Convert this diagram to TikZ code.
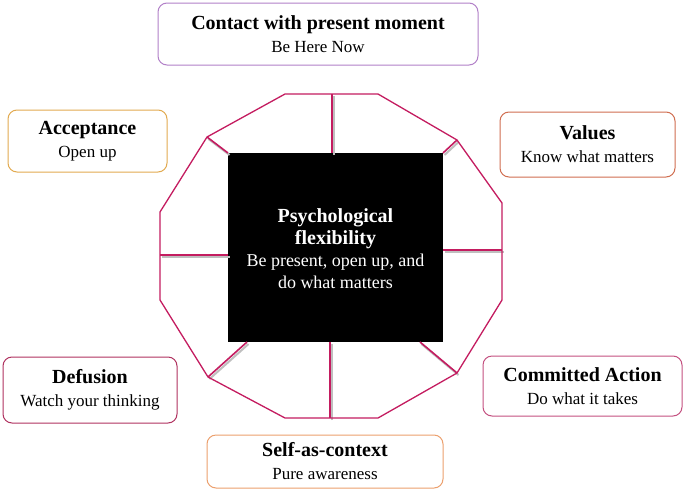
\documentclass[tikz,border=0pt]{standalone}
\usepackage{fontspec}
\setmainfont{Liberation Serif}
\definecolor{crim}{RGB}{196,28,96}
\definecolor{cPurple}{RGB}{178,128,200}
\definecolor{cGold}{RGB}{226,170,80}
\definecolor{cRust}{RGB}{208,110,80}
\definecolor{cRose}{RGB}{176,50,96}
\definecolor{cPink}{RGB}{196,80,128}
\definecolor{cOrange}{RGB}{236,160,110}
\tikzset{
  lbox/.style={draw=#1, line width=1pt, rounded corners=9pt, fill=white, align=center, inner sep=0pt, font=\fontsize{17}{23}\selectfont},
  spoke/.style={draw=crim, line width=1.6pt},
  spokeshadow/.style={draw=black!25, line width=2pt},
  edge/.style={draw=crim, line width=1.3pt, line join=miter},
}
\newcommand{\boxtext}[2]{\textbf{\fontsize{20}{23}\selectfont #1}\\#2}
\begin{document}
\begin{tikzpicture}[x=1pt,y=-1pt]
\useasboundingbox[fill=white] (0,0) rectangle (685,493);
% polygon vertices
\coordinate (p1) at (285,94);
\coordinate (p2) at (378,94);
\coordinate (p3) at (457,140);
\coordinate (p4) at (502,203);
\coordinate (p5) at (502,300);
\coordinate (p6) at (457,373);
\coordinate (p7) at (378,418);
\coordinate (p8) at (285,418);
\coordinate (p9) at (208,377);
\coordinate (p10) at (160,300);
\coordinate (p11) at (160,212);
\coordinate (p12) at (207,137);
% spoke outer ends
\coordinate (sT) at (332,94);
\coordinate (sR) at (502,250);
\coordinate (sB) at (330,418);
\coordinate (sL) at (160,255);
% central square
\node[fill=black, minimum width=215pt, minimum height=189pt, inner sep=0pt] (core) at (335.5,247.5) {};
% spoke inner ends
\coordinate (cT) at (332,153);
\coordinate (cNE) at (443,153);
\coordinate (cR) at (443,250);
\coordinate (cSE) at (420,342);
\coordinate (cB) at (330,342);
\coordinate (cSW) at (247,342);
\coordinate (cL) at (228,255);
\coordinate (cNW) at (228,153);
% spoke shadows
\foreach \a/\b in {sT/cT,p3/cNE,sR/cR,p6/cSE,sB/cB,p9/cSW,sL/cL,p12/cNW}{
  \draw[spokeshadow] ([shift={(1.5,2)}]\a) -- ([shift={(1.5,2)}]\b);
}
% polygon
\draw[edge] (p1) -- (p2) -- (p3) -- (p4) -- (p5) -- (p6) -- (p7) -- (p8) -- (p9) -- (p10) -- (p11) -- (p12) -- cycle;
% spokes
\foreach \a/\b in {sT/cT,p3/cNE,sR/cR,p6/cSE,sB/cB,p9/cSW,sL/cL,p12/cNW}{
  \draw[spoke] (\a) -- (\b);
}
% centre text
\node[text=white, align=center, inner sep=0pt, font=\fontsize{18}{22}\selectfont] (coretext) at (335.5,249) {\textbf{\fontsize{20}{22}\selectfont Psychological}\\ \textbf{\fontsize{20}{22}\selectfont flexibility}\\ Be present, open up, and\\ do what matters};
% labels
\node[lbox=cPurple, minimum width=320pt, minimum height=62pt] (contact) at (318,34) {\boxtext{Contact with present moment}{Be Here Now}};
\node[lbox=cGold, minimum width=159pt, minimum height=62pt] (accept) at (87.5,141) {\boxtext{Acceptance}{Open up}};
\node[lbox=cRust, minimum width=175pt, minimum height=65pt] (values) at (587.5,144.5) {\boxtext{Values}{Know what matters}};
\node[lbox=cRose, minimum width=174pt, minimum height=66pt] (defusion) at (90,390) {\boxtext{Defusion}{Watch your thinking}};
\node[lbox=cPink, minimum width=199pt, minimum height=60pt] (committed) at (582.5,386) {\boxtext{Committed Action}{Do what it takes}};
\node[lbox=cOrange, minimum width=236pt, minimum height=53pt] (self) at (325,461.5) {\boxtext{Self-as-context}{Pure awareness}};
\end{tikzpicture}
\end{document}
